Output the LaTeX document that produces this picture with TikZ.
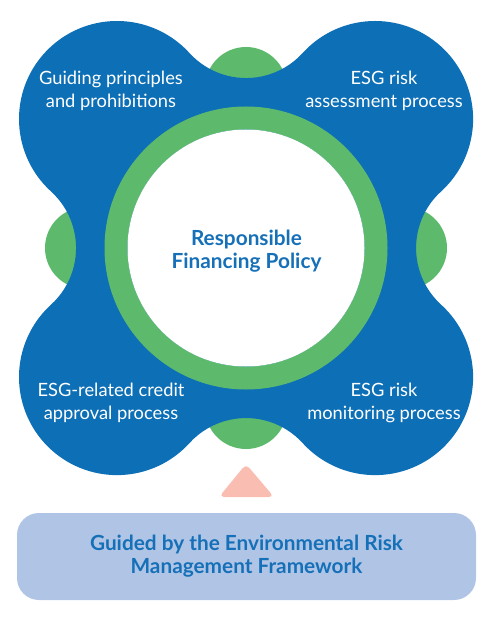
\documentclass[tikz,border=0pt]{standalone}
\usepackage{fontspec}
\setmainfont{Lato}
\definecolor{blobblue}{HTML}{0D6FB6}
\definecolor{ringgreen}{HTML}{5DBA6C}
\definecolor{titleblue}{HTML}{1670B8}
\definecolor{boxblue}{HTML}{B0C5E6}
\definecolor{salmon}{HTML}{F9BDB1}
\tikzset{
  whitetxt/.style={text=white, align=center, font=\fontsize{18.3}{23}\selectfont, inner sep=0pt},
  titletxt/.style={text=titleblue, align=center, font=\bfseries\fontsize{20.8}{23}\selectfont, inner sep=0pt},
  guidebox/.style={fill=boxblue, rounded corners=22pt, minimum width=459pt, minimum height=87pt,
    text=titleblue, align=center, font=\bfseries\fontsize{20.8}{23}\selectfont, inner sep=0pt},
}
\begin{document}
\begin{tikzpicture}[x=1pt,y=-1pt]
\useasboundingbox (0,0) rectangle (498,617);
% small green circles behind the blob
\foreach \p in {(246,88),(86,248),(406,248),(246,408)}
  \fill[ringgreen] \p circle[radius=41];
% blue four-lobed blob
\fill[blobblue] (51.04,191.47)
  arc[start angle=132.3,end angle=317.7,radius=98]
  arc[start angle=137.7,end angle=42.3,radius=76.5]
  arc[start angle=222.3,end angle=407.7,radius=98]
  arc[start angle=227.7,end angle=132.3,radius=76.5]
  arc[start angle=-47.7,end angle=137.7,radius=98]
  arc[start angle=-42.3,end angle=-137.7,radius=76.5]
  arc[start angle=42.3,end angle=227.7,radius=98]
  arc[start angle=47.7,end angle=-47.7,radius=76.5] -- cycle;
% green ring
\draw[ringgreen, line width=23pt] (246,248) circle[radius=130];
\fill[white] (246,248) circle[radius=118.5];
% texts
\node[whitetxt] (gp) at (111,91) {Guiding principles\\and prohibitions};
\node[whitetxt] (ra) at (384,91) {ESG risk\\assessment process};
\node[whitetxt] (cp) at (111,403) {ESG-related credit\\approval process};
\node[whitetxt] (rm) at (384,403) {ESG risk\\monitoring process};
\node[titletxt] (rfp) at (246.5,251) {Responsible\\Financing Policy};
% triangle
\fill[salmon, rounded corners=5pt] (246,497) -- (274,497) -- (246,464) -- (219,497) -- cycle;
% bottom box
\node[guidebox] (erm) at (246.5,556.5) {Guided by the Environmental Risk\\Management Framework};
\end{tikzpicture}
\end{document}
